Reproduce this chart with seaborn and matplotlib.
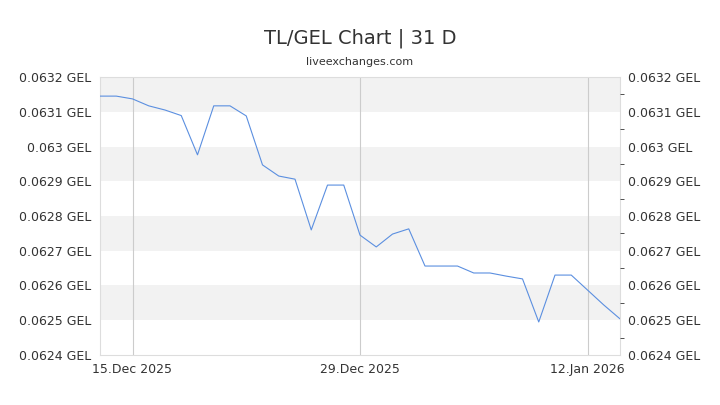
import matplotlib
matplotlib.use("Agg")
import matplotlib.pyplot as plt
import seaborn as sns
import pandas as pd
import numpy as np

dates = pd.date_range("2025-12-13", "2026-01-14", freq="D")
rates = [0.063145, 0.063145, 0.063137, 0.063117, 0.063105, 0.063089, 0.062976,
         0.063117, 0.063117, 0.063088, 0.062947, 0.062915, 0.062906, 0.062760,
         0.062889, 0.062889, 0.062745, 0.062711, 0.062748, 0.062763, 0.062656,
         0.062656, 0.062656, 0.062636, 0.062636, 0.062627, 0.062619, 0.062495,
         0.062630, 0.062630, 0.062587, 0.062544, 0.062504]
yticks = [0.0624, 0.0625, 0.0626, 0.0627, 0.0628, 0.0629, 0.063, 0.0631, 0.0632]
ylabels = ["0.0624 GEL", "0.0625 GEL", "0.0626 GEL", "0.0627 GEL", "0.0628 GEL",
           "0.0629 GEL", "0.063 GEL", "0.0631 GEL", "0.0632 GEL"]
xticks = pd.to_datetime(["2025-12-15", "2025-12-29", "2026-01-12"])
xlabels = ["15.Dec 2025", "29.Dec 2025", "12.Jan 2026"]

df = pd.DataFrame({"date": dates, "rate": rates})
sns.set_style("white")
fig = plt.figure(figsize=(7.2, 4.05), dpi=100)
ax = fig.add_axes([100/720, 1-355/405, 520/720, 278/405])
for i in range(len(yticks)-1):
    if (len(yticks)-2-i) % 2 == 0:
        ax.axhspan(yticks[i], yticks[i+1], color="#f2f2f2", zorder=0, lw=0)
for xt in xticks:
    ax.axvline(xt, color="#cccccc", lw=0.8, zorder=1)
sns.lineplot(data=df, x="date", y="rate", ax=ax, color="#5b8fe0", lw=0.8, zorder=3)
ax.set_xlim(dates[0], dates[-1])
ax.set_ylim(0.0624, 0.0632)
ax.set_yticks(yticks)
ax.set_yticklabels(ylabels, fontsize=9, color="#333333")
ax.set_xticks(xticks)
ax.set_xticklabels(xlabels, fontsize=9, color="#333333")
ax.set_xlabel(""); ax.set_ylabel("")
for s in ax.spines.values():
    s.set_color("#dddddd"); s.set_linewidth(0.8)
ax.tick_params(axis="both", length=0, pad=6)
ax2 = ax.twinx()
ax2.set_ylim(0.0624, 0.0632)
ax2.set_yticks(yticks)
ax2.set_yticklabels(ylabels, fontsize=9, color="#333333")
ax2.set_yticks(np.arange(0.06245, 0.0632, 0.0001), minor=True)
ax2.tick_params(axis="y", which="major", length=0, pad=6)
ax2.tick_params(axis="y", which="minor", length=3, color="#333333")
for s in ax2.spines.values():
    s.set_visible(False)
fig.text(0.5, 1-38/405, "TL/GEL Chart | 31 D", ha="center", va="center", fontsize=14, color="#333333")
fig.text(0.5, 1-62/405, "liveexchanges.com", ha="center", va="center", fontsize=8, color="#333333")
fig.savefig("out.png", dpi=100)
